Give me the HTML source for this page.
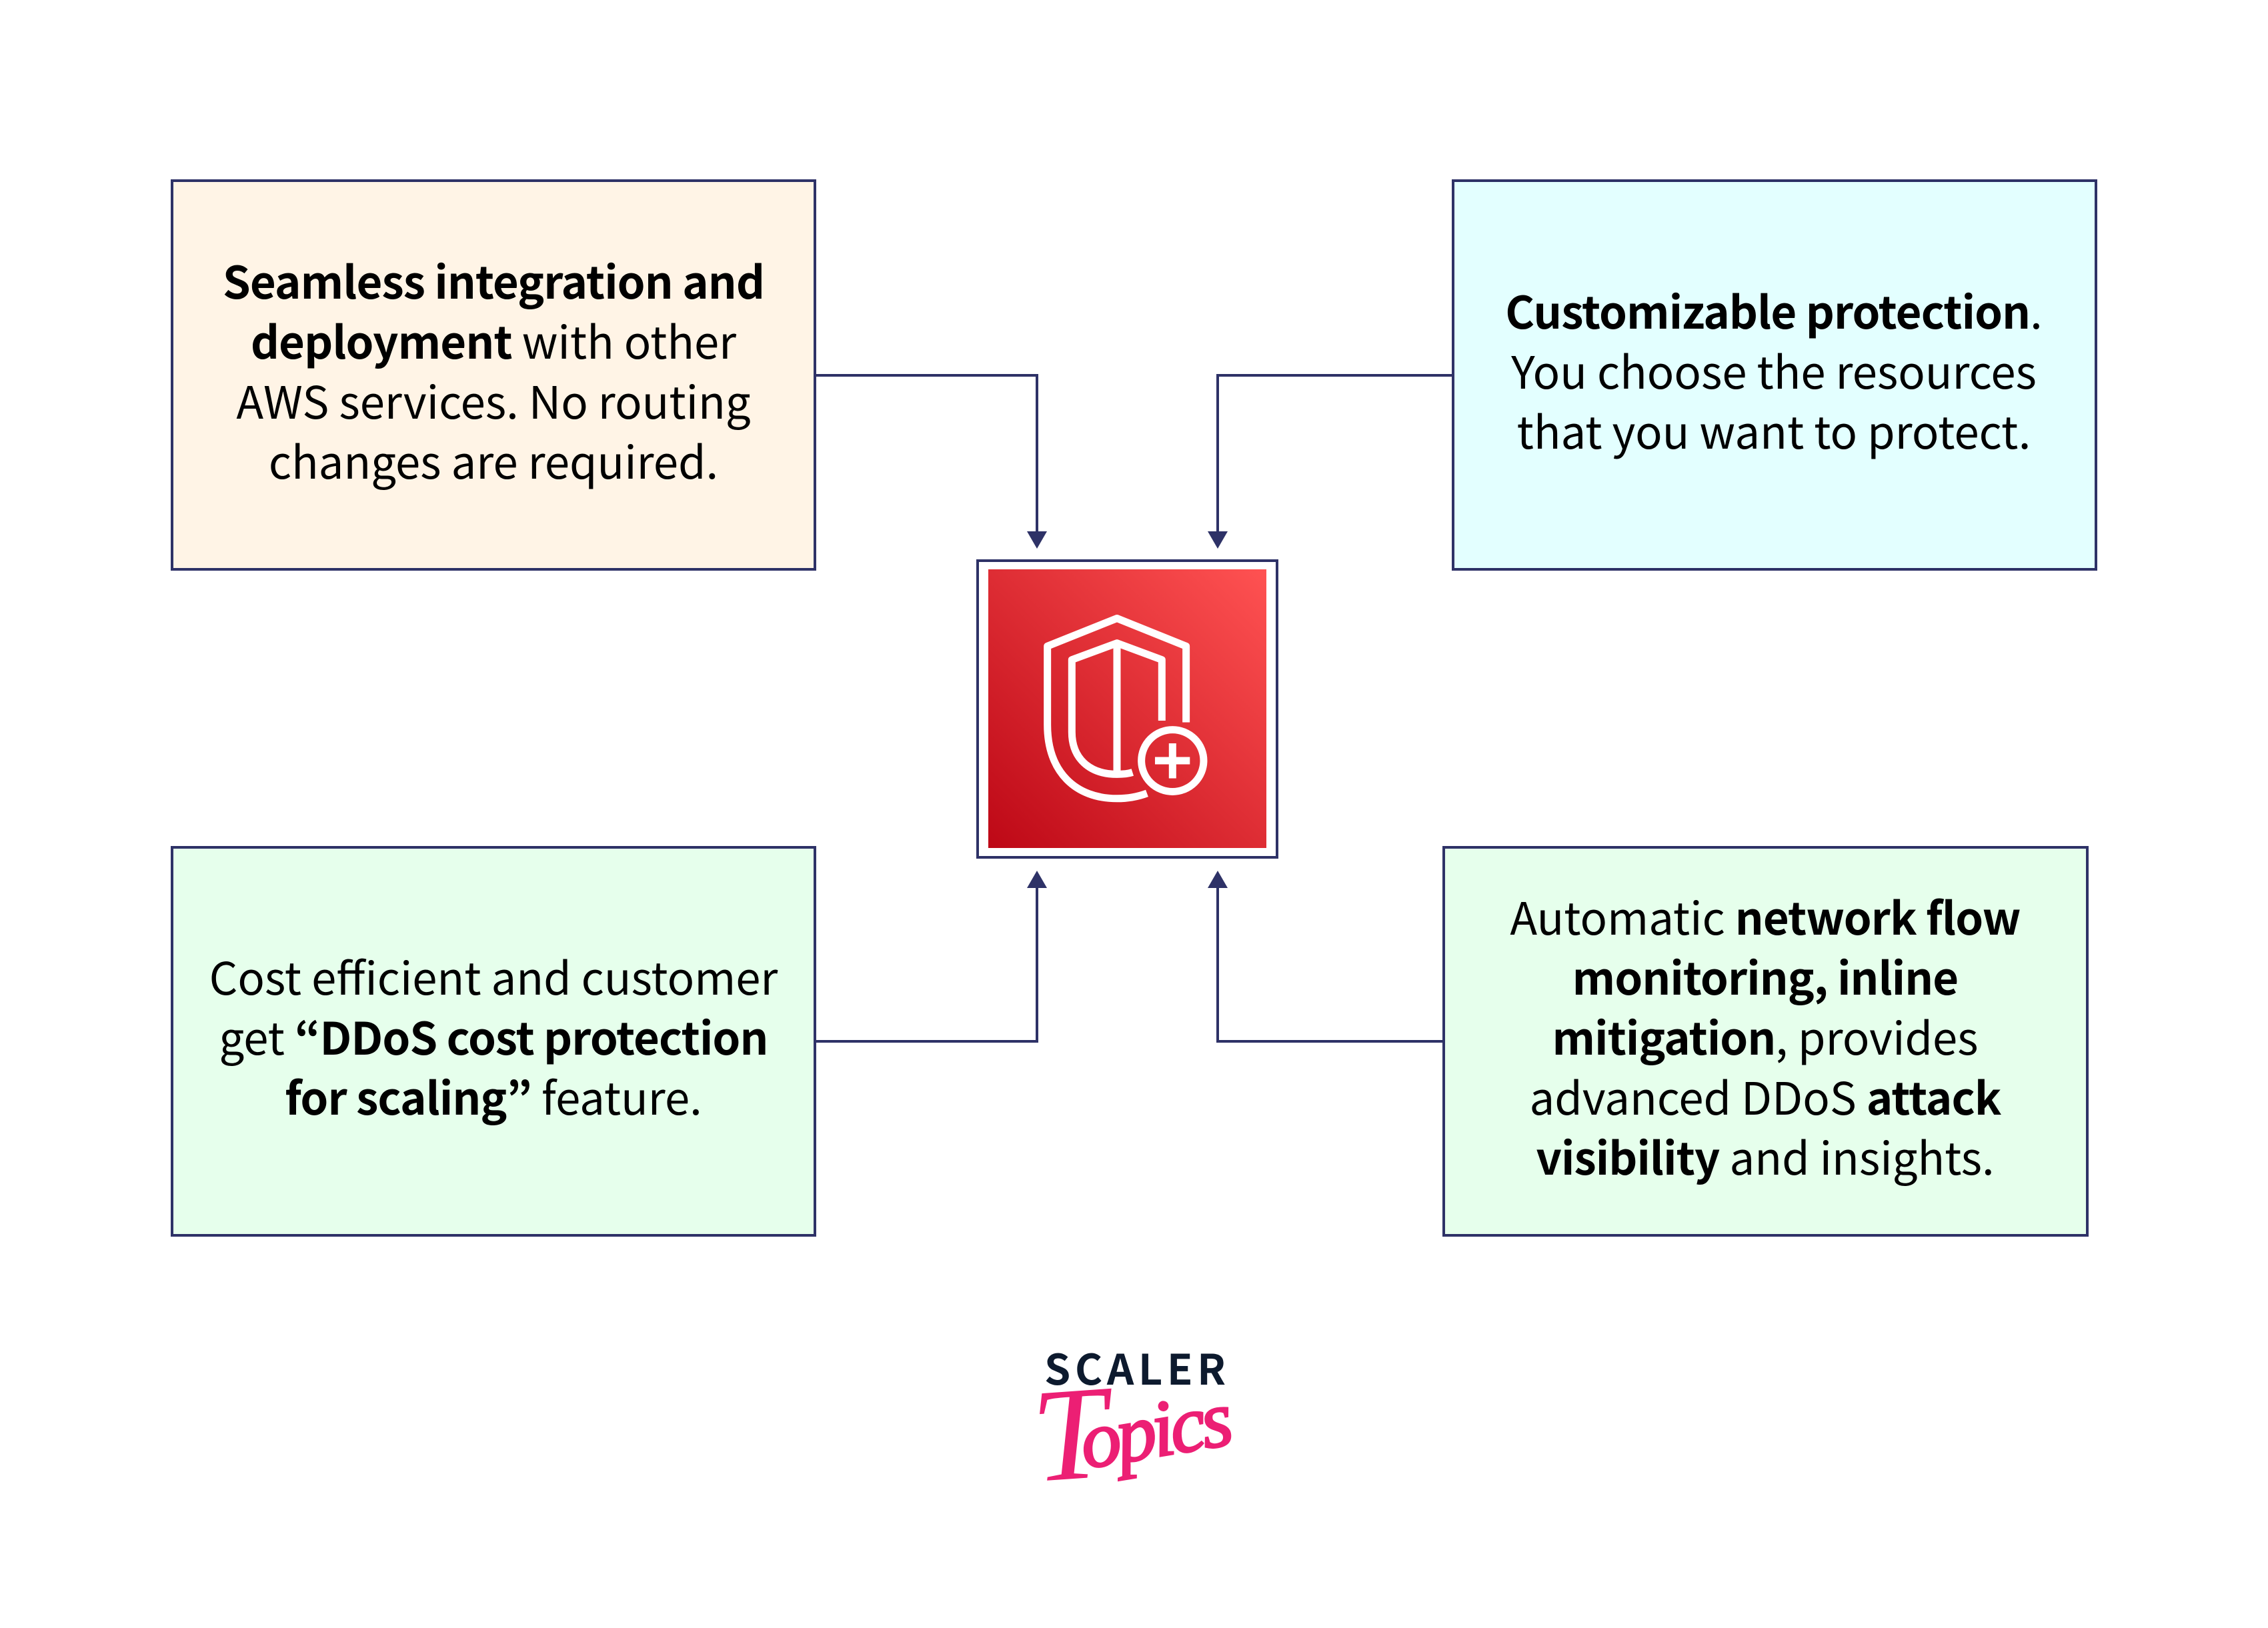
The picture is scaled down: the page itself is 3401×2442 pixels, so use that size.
<!DOCTYPE html>
<html><head><meta charset="utf-8"><style>
html,body{margin:0;padding:0;background:#fff;width:3401px;height:2442px;overflow:hidden}
svg{display:block}
.t{font-family:"Noto Sans CJK JP","Liberation Sans",sans-serif;font-size:67px;fill:#000;text-anchor:middle}
.t tspan.b{font-weight:700;letter-spacing:-.9px}
</style></head><body>
<svg width="3401" height="2442" viewBox="0 0 3401 2442" xmlns="http://www.w3.org/2000/svg">
<defs><linearGradient id="g" x1="0" y1="1" x2="1" y2="0"><stop offset="0" stop-color="#BD0816"/><stop offset="1" stop-color="#FF5252"/></linearGradient></defs>
<rect width="3401" height="2442" fill="#fff"/>
<g stroke="#2E3267" stroke-width="4">
<rect x="258" y="271" width="964" height="583" fill="#FFF4E6"/>
<rect x="2179" y="271" width="964" height="583" fill="#E3FFFF"/>
<rect x="258" y="1271" width="964" height="582" fill="#E6FFEC"/>
<rect x="2165" y="1271" width="965" height="582" fill="#E6FFEC"/>
<g fill="none">
<path d="M1222 563H1555V800"/><path d="M2179 563H1826V800"/>
<path d="M1222 1562H1555V1330"/><path d="M2165 1562H1826V1330"/>
<rect x="1466" y="841" width="449" height="445" fill="#fff"/></g>
</g>
<g fill="#2E3267">
<path d="M1540 797h30l-15 26z"/><path d="M1811 797h30l-15 26z"/>
<path d="M1540 1332h30l-15-26z"/><path d="M1811 1332h30l-15-26z"/>
</g>
<rect x="1482" y="854" width="417" height="418" fill="url(#g)"/>
<g transform="translate(1440,780) scale(.3333,.3571)" fill="none" stroke="#fff" stroke-width="11" stroke-linejoin="round">
<path vector-effect="non-scaling-stroke" d="M1016 850V530L705 413L392 530V860C392 1060 520 1170 705 1170C760 1170 800 1162 840 1148"/>
<path vector-effect="non-scaling-stroke" d="M907 843V587L705 517L502 587V890C502 1000 580 1068 705 1068C730 1068 755 1066 775 1060"/>
<path vector-effect="non-scaling-stroke" d="M705 517V1068"/>
<ellipse vector-effect="non-scaling-stroke" cx="955" cy="1011" rx="140" ry="130"/>
<path vector-effect="non-scaling-stroke" d="M876 1011H1033M955 938V1085" stroke-linejoin="miter"/>
</g>
<text class="t"><tspan x="740" y="448" class="b">Seamless integration and</tspan><tspan x="740" y="538"><tspan class="b">deployment</tspan> with other</tspan><tspan x="740" y="628">AWS services. No routing</tspan><tspan x="740" y="718">changes are required.</tspan></text>
<text class="t"><tspan x="2660" y="493"><tspan class="b">Customizable protection</tspan>.</tspan><tspan x="2660" y="583">You choose the resources</tspan><tspan x="2660" y="673">that you want to protect.</tspan></text>
<text class="t"><tspan x="740" y="1492">Cost efficient and customer</tspan><tspan x="740" y="1582">get <tspan class="b">“DDoS cost protection</tspan></tspan><tspan x="740" y="1672"><tspan class="b">for scaling”</tspan> feature.</tspan></text>
<text class="t"><tspan x="2647" y="1402">Automatic <tspan class="b">network flow</tspan></tspan><tspan x="2647" y="1492"><tspan class="b">monitoring, inline</tspan></tspan><tspan x="2647" y="1582"><tspan class="b">mitigation</tspan>, provides</tspan><tspan x="2647" y="1672">advanced DDoS <tspan class="b">attack</tspan></tspan><tspan x="2647" y="1762"><tspan class="b">visibility</tspan> and insights.</tspan></text>
<text x="1566" y="2077" font-family="Noto Sans CJK JP,Liberation Sans,sans-serif" font-weight="700" font-size="63" letter-spacing="6.6" fill="#0D1A2E">SCALER</text>
<g font-family="Liberation Serif,serif" font-style="italic" fill="#EC1F74" stroke="#EC1F74">
<text transform="translate(1553,2222) rotate(-4)" font-size="200" stroke-width="0">T</text>
<text transform="translate(1627,2203) rotate(-9.5)" font-size="120" letter-spacing="-6" stroke-width="3">opics</text>
</g>
</svg>
</body></html>
